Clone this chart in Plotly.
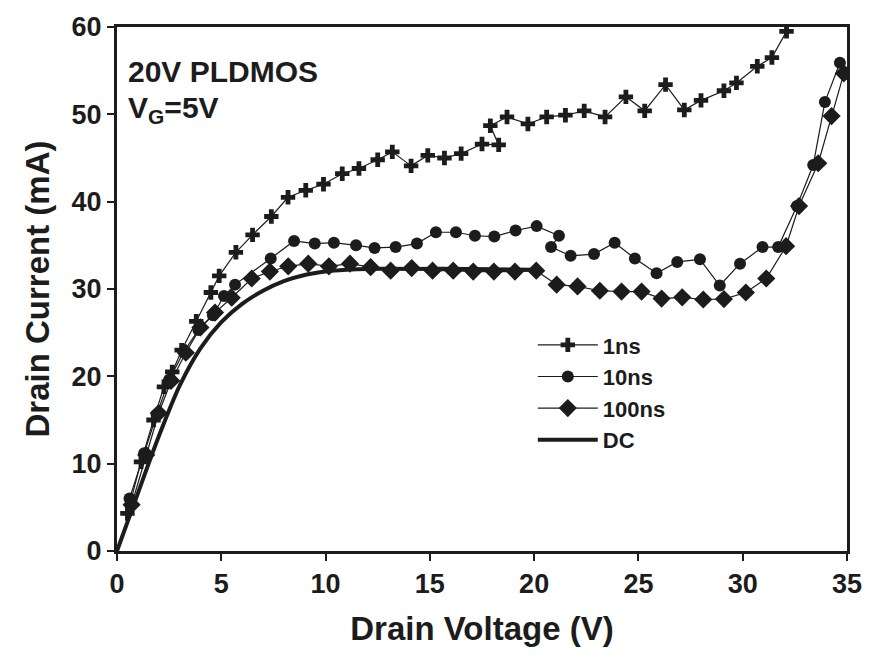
import plotly.graph_objects as go

# 1 ns pulsed I-V
v_1ns = [0.5, 1.15, 1.75, 2.25, 2.65, 3.1, 3.8, 4.5, 4.9, 5.7, 6.5, 7.4, 8.2, 9.05, 9.9, 10.8,
         11.6, 12.5, 13.2, 14.1, 14.9, 15.7, 16.5, 17.5, 18.3, 17.9, 18.7, 19.7, 20.6, 21.5,
         22.4, 23.4, 24.4, 25.3, 26.3, 27.2, 28.0, 29.1, 29.7, 30.7, 31.4, 32.1]
i_1ns = [4.3, 10.2, 15.0, 18.8, 20.5, 23.0, 26.3, 29.6, 31.5, 34.2, 36.2, 38.3, 40.5, 41.3, 42.0, 43.2,
         43.8, 44.8, 45.7, 44.1, 45.3, 45.0, 45.5, 46.6, 46.5, 48.7, 49.7, 48.9, 49.7, 49.9,
         50.4, 49.7, 52.0, 50.4, 53.4, 50.5, 51.6, 52.7, 53.6, 55.5, 56.5, 59.5]

# 10 ns pulsed I-V
v_10ns = [0.6, 1.3, 1.9, 2.5, 3.2, 3.9, 4.6, 5.13, 5.66, 7.37, 8.49, 9.48, 10.4, 11.46, 12.35, 13.36,
          14.38, 15.29, 16.25, 17.16, 18.09, 19.11, 20.12, 21.19, 20.81, 21.75, 22.87, 23.86, 24.83,
          25.87, 26.86, 27.95, 28.9, 29.87, 30.95, 31.7, 32.6, 33.38, 33.94, 34.66]
i_10ns = [6.0, 11.2, 15.6, 19.6, 22.8, 25.3, 27.0, 29.2, 30.5, 33.5, 35.5, 35.2, 35.3, 35.0, 34.7, 34.8,
          35.2, 36.5, 36.5, 36.1, 36.0, 36.7, 37.2, 36.1, 34.8, 33.8, 34.0, 35.3, 33.5,
          31.8, 33.1, 33.4, 30.4, 32.9, 34.8, 34.8, 39.5, 44.2, 51.4, 55.9]

# 100 ns pulsed I-V
v_100ns = [0.7, 1.4, 2.0, 2.6, 3.3, 4.0, 4.7, 5.5, 6.46, 7.33, 8.21, 9.17, 10.16, 11.17, 12.16, 13.12,
           14.13, 15.13, 16.12, 17.08, 18.07, 19.08, 20.1, 21.08, 22.08, 23.15, 24.19, 25.15, 26.11,
           27.1, 28.11, 29.1, 30.15, 31.13, 32.08, 32.7, 33.62, 34.26, 34.85]
i_100ns = [5.3, 11.0, 15.8, 19.5, 22.7, 25.6, 27.3, 29.0, 31.2, 32.0, 32.6, 32.9, 32.6, 32.9, 32.5, 32.1,
           32.4, 32.1, 32.1, 32.0, 32.0, 32.0, 32.1, 30.5, 30.3, 29.8, 29.7, 29.7, 28.9,
           29.05, 28.8, 28.85, 29.6, 31.2, 34.9, 39.5, 44.4, 49.8, 54.7]

# DC I-V
v_dc = [0, 1, 2, 3, 4, 5, 6, 7, 8, 9, 10, 11, 12, 14, 17, 20]
i_dc = [0, 6.6, 13.1, 18.9, 23.2, 26.2, 28.3, 29.8, 30.9, 31.6, 32.0, 32.2, 32.3, 32.3, 32.3, 32.2]

x_ticks = [0, 5, 10, 15, 20, 25, 30, 35]
y_ticks = [0, 10, 20, 30, 40, 50, 60]

INK = "#1c1c1c"
FONT = "Liberation Sans"

fig = go.Figure()
fig.add_trace(go.Scatter(x=v_1ns, y=i_1ns, name="1ns", mode="lines+markers",
                         line=dict(color=INK, width=1.2),
                         marker=dict(symbol="cross", size=12, color=INK)))
fig.add_trace(go.Scatter(x=v_10ns, y=i_10ns, name="10ns", mode="lines+markers",
                         line=dict(color=INK, width=1.2),
                         marker=dict(symbol="circle", size=12, color=INK)))
fig.add_trace(go.Scatter(x=v_100ns, y=i_100ns, name="100ns", mode="lines+markers",
                         line=dict(color=INK, width=1.2),
                         marker=dict(symbol="diamond", size=14, color=INK)))
fig.add_trace(go.Scatter(x=v_dc, y=i_dc, name="DC", mode="lines",
                         line=dict(color=INK, width=4, shape="spline", smoothing=0.8)))

axis_common = dict(showgrid=False, zeroline=False, showline=True, linecolor=INK, linewidth=3,
                   mirror=True, ticks="outside", ticklen=7, tickwidth=2, tickcolor=INK,
                   tickfont=dict(family=FONT, size=27, color=INK, weight="bold"))

fig.update_xaxes(range=[0, 35], tickvals=x_ticks, ticktext=[str(t) for t in x_ticks],
                 title=dict(text="<b>Drain Voltage (V)</b>", font=dict(family=FONT, size=33, color=INK),
                            standoff=19),
                 **axis_common)
fig.update_yaxes(range=[0, 60], tickvals=y_ticks, ticktext=[str(t) for t in y_ticks],
                 title=dict(text="<b>Drain Current (mA)</b>", font=dict(family=FONT, size=33, color=INK),
                            standoff=13),
                 **axis_common)

fig.add_annotation(x=0.012, y=0.916, xref="paper", yref="paper", xanchor="left", yanchor="middle",
                   text="<b>20V PLDMOS</b>", showarrow=False,
                   font=dict(family=FONT, size=30, color=INK))
fig.add_annotation(x=0.012, y=0.843, xref="paper", yref="paper", xanchor="left", yanchor="middle",
                   text="<b>V<sub>G</sub>=5V</b>", showarrow=False,
                   font=dict(family=FONT, size=30, color=INK))

fig.update_layout(
    width=876, height=658,
    margin=dict(l=117, r=29, t=27, b=107),
    paper_bgcolor="white", plot_bgcolor="white",
    font=dict(family=FONT, color=INK, weight="bold"),
    legend=dict(x=0.5696, y=0.433, xanchor="left", yanchor="top",
                bgcolor="rgba(0,0,0,0)", borderwidth=0,
                font=dict(family=FONT, size=22, color=INK, weight="bold"),
                itemwidth=60, tracegroupgap=0),
)

fig.write_html("out.html")
